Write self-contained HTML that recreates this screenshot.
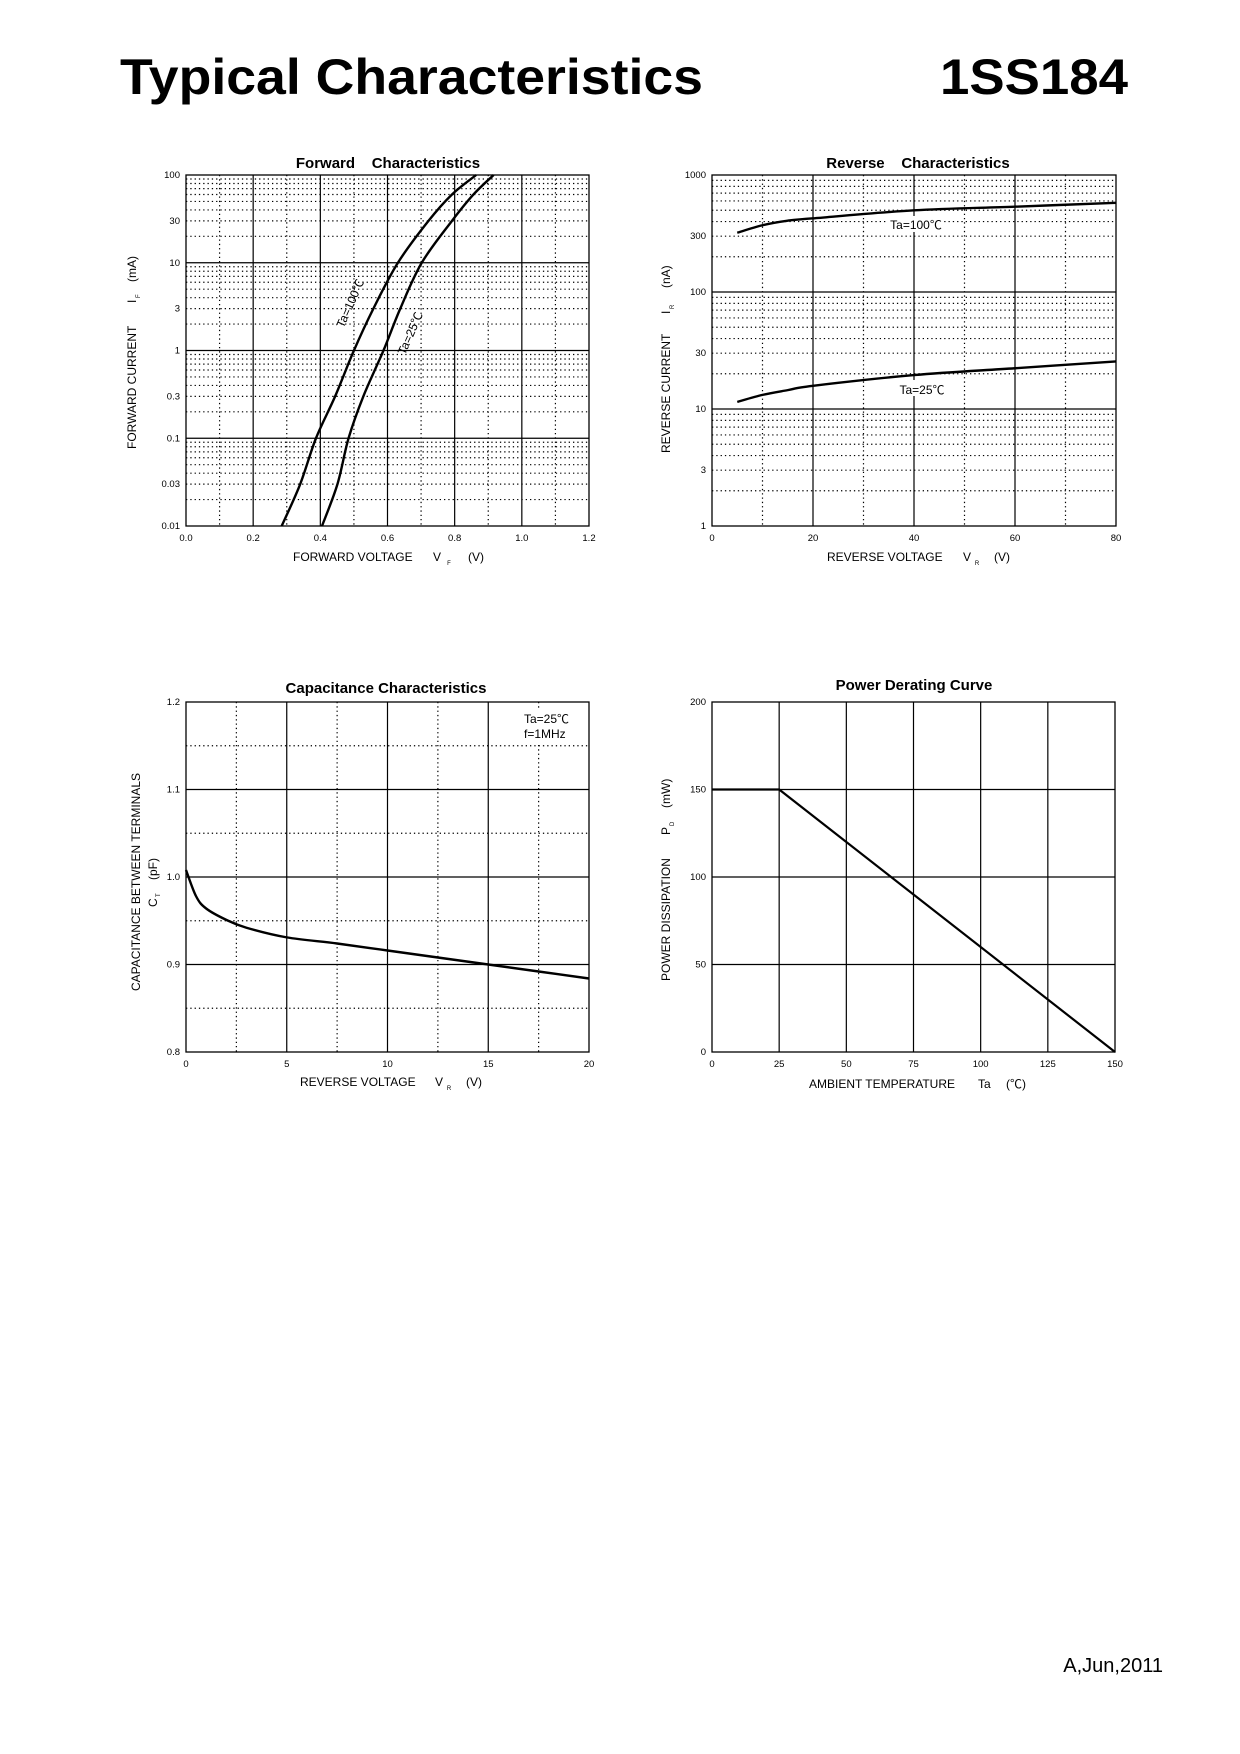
<!DOCTYPE html>
<html><head><meta charset="utf-8"><style>
html,body{margin:0;padding:0;background:#fff}
svg{display:block}
text{font-family:"Liberation Sans","Noto Sans CJK SC",sans-serif;fill:#000;white-space:pre}
</style></head><body>
<svg id="page" width="1240" height="1754" viewBox="0 0 1240 1754" xmlns="http://www.w3.org/2000/svg">
<text x="120" y="94" font-size="50" font-weight="bold" textLength="583" lengthAdjust="spacingAndGlyphs">Typical Characteristics</text>
<text x="940" y="94" font-size="50" font-weight="bold" textLength="188" lengthAdjust="spacingAndGlyphs">1SS184</text>
<text x="1163" y="1672" font-size="20" text-anchor="end">A,Jun,2011</text>
<g id="charts"></g>
</svg>
<script>
// Forward characteristics data
const fwdCurrent = [0.01, 0.03, 0.1, 0.3, 1, 3, 10, 30, 60, 100];
const fwdV100 = [0.285, 0.34, 0.387, 0.444, 0.5, 0.558, 0.631, 0.722, 0.792, 0.864];
const fwdV25 = [0.405, 0.451, 0.484, 0.528, 0.588, 0.638, 0.702, 0.792, 0.856, 0.916];
const fwdXTicks = ["0.0","0.2","0.4","0.6","0.8","1.0","1.2"];
const fwdYTicks = ["0.01","0.03","0.1","0.3","1","3","10","30","100"];
// Reverse characteristics data
const revVoltage = [5, 10, 15, 20, 40, 60, 80];
const revI100 = [321, 372, 407, 426, 499, 536, 579];
const revI25 = [11.5, 13.2, 14.5, 15.8, 19.5, 22.3, 25.5];
const revXTicks = ["0","20","40","60","80"];
const revYTicks = ["1","3","10","30","100","300","1000"];
// Capacitance data
const capVoltage = [0, 0.5, 1, 2, 3, 5, 7.5, 10, 12.5, 15, 17.5, 20];
const capValue = [1.008, 0.978, 0.964, 0.951, 0.942, 0.931, 0.924, 0.916, 0.908, 0.900, 0.892, 0.884];
const capXTicks = ["0","5","10","15","20"];
const capYTicks = ["0.8","0.9","1.0","1.1","1.2"];
// Power derating data
const pwrTemp = [0, 25, 150];
const pwrPower = [150, 150, 0];
const pwrXTicks = ["0","25","50","75","100","125","150"];
const pwrYTicks = ["0","50","100","150","200"];

const NS = "http://www.w3.org/2000/svg";
const root = document.getElementById('charts');
function el(tag, attrs, parent, txt){
  const e = document.createElementNS(NS, tag);
  for (const k in attrs) e.setAttribute(k, attrs[k]);
  if (txt !== undefined) e.textContent = txt;
  (parent || root).appendChild(e);
  return e;
}
function line(g, x1,y1,x2,y2, dotted, w){
  const l = el('line',{x1,y1,x2,y2,stroke:'#000','stroke-width':w||1.2},g);
  if (dotted){ l.setAttribute('stroke-dasharray','1.3,3'); l.setAttribute('stroke-width','1.2'); }
  
  
  return l;
}
function makeChart(name, L, T, R, B){
  const g = el('g',{});
  
  
  return {g, L, T, R, B};
}
function frame(c){
  const r = el('rect',{x:c.L,y:c.T,width:c.R-c.L,height:c.B-c.T,fill:'none',stroke:'#000','stroke-width':1.3},c.g);
  
  
}
function txt(g, x, y, s, size, anchor, name, extra){
  const t = el('text', Object.assign({x, y, 'font-size':size, 'text-anchor':anchor||'middle'}, extra||{}), g, s);
  
  
  return t;
}
function vtxt(g, x, y, s, size, name){
  const t = el('text', {x:0, y:0, 'font-size':size, 'text-anchor':'start', transform:'translate('+x+','+y+') rotate(-90)'}, g, s);
  
  
  return t;
}
function curve(c, xs, ys, fx, fy, name, w){
  const pts = xs.map((x,i)=>[fx(x), fy(ys[i])]);
  let d = 'M'+pts[0][0]+','+pts[0][1];
  for (let i=0;i<pts.length-1;i++){
    const p0=pts[Math.max(0,i-1)], p1=pts[i], p2=pts[i+1], p3=pts[Math.min(pts.length-1,i+2)];
    const c1=[p1[0]+(p2[0]-p0[0])/6, p1[1]+(p2[1]-p0[1])/6];
    const c2=[p2[0]-(p3[0]-p1[0])/6, p2[1]-(p3[1]-p1[1])/6];
    d += 'C'+c1.join(',')+' '+c2.join(',')+' '+p2.join(',');
  }
  const p = el('path',{d, fill:'none', stroke:'#000','stroke-width':w||2.4},c.g);
  
  
}

// ---------- Forward ----------
(function(){
  const c = makeChart('forward-characteristics-chart', 186, 175, 589, 526);
  const fx = v => c.L + (v-0)/1.2*(c.R-c.L);
  const fy = i => c.B - (Math.log10(i)+2)/4*(c.B-c.T);
  for (let d=-2; d<2; d++) for (let k=2;k<=9;k++) line(c.g, c.L, fy(k*Math.pow(10,d)), c.R, fy(k*Math.pow(10,d)), true);
  for (let v=0.1; v<1.2; v+=0.2) line(c.g, fx(v), c.T, fx(v), c.B, true);
  for (let d=-1; d<2; d++) line(c.g, c.L, fy(Math.pow(10,d)), c.R, fy(Math.pow(10,d)));
  for (let v=0.2; v<1.19; v+=0.2) line(c.g, fx(v), c.T, fx(v), c.B);
  frame(c);
  fwdXTicks.forEach(s=>txt(c.g, fx(parseFloat(s)), c.B+15, s, 9.5, 'middle', 'x-tick-label'));
  fwdYTicks.forEach(s=>txt(c.g, c.L-6, fy(parseFloat(s))+3, s, 9.5, 'end', 'y-tick-label'));
  curve(c, fwdV100, fwdCurrent, fx, fy, 'curve-ta-100');
  curve(c, fwdV25, fwdCurrent, fx, fy, 'curve-ta-25');
  txt(c.g, 388, 168, 'Forward    Characteristics', 15, 'middle', 'chart-title', {'font-weight':'bold'});
  txt(c.g, 293, 561, 'FORWARD VOLTAGE', 12, 'start', 'x-axis-title');
  txt(c.g, 437, 561, 'V', 12, 'middle', 'x-axis-symbol');
  txt(c.g, 449, 565, 'F', 6, 'middle', 'x-axis-subscript');
  txt(c.g, 468, 561, '(V)', 12, 'start', 'x-axis-unit');
  vtxt(c.g, 136, 449, 'FORWARD CURRENT', 12, 'y-axis-title');
  vtxt(c.g, 136, 303, 'I', 12, 'y-axis-symbol');
  vtxt(c.g, 140, 298, 'F', 6, 'y-axis-subscript');
  vtxt(c.g, 136, 282, '(mA)', 12, 'y-axis-unit');
  txt(c.g, 0, 0, 'Ta=100℃', 12, 'middle', 'label-ta-100', {transform:'translate(354,305) rotate(-66)'});
  txt(c.g, 0, 0, 'Ta=25℃', 12, 'middle', 'label-ta-25', {transform:'translate(414,335) rotate(-66)'});
})();

// ---------- Reverse ----------
(function(){
  const c = makeChart('reverse-characteristics-chart', 712, 175, 1116, 526);
  const fx = v => c.L + v/80*(c.R-c.L);
  const fy = i => c.B - Math.log10(i)/3*(c.B-c.T);
  for (let d=0; d<3; d++) for (let k=2;k<=9;k++) line(c.g, c.L, fy(k*Math.pow(10,d)), c.R, fy(k*Math.pow(10,d)), true);
  for (let v=10; v<80; v+=20) line(c.g, fx(v), c.T, fx(v), c.B, true);
  for (let d=1; d<3; d++) line(c.g, c.L, fy(Math.pow(10,d)), c.R, fy(Math.pow(10,d)));
  for (let v=20; v<80; v+=20) line(c.g, fx(v), c.T, fx(v), c.B);
  frame(c);
  revXTicks.forEach(s=>txt(c.g, fx(parseFloat(s)), c.B+15, s, 9.5, 'middle', 'x-tick-label'));
  revYTicks.forEach(s=>txt(c.g, c.L-6, fy(parseFloat(s))+3, s, 9.5, 'end', 'y-tick-label'));
  const w1 = el('rect',{x:888,y:216,width:56,height:16,fill:'#fff'},c.g);
   
  const w2 = el('rect',{x:896,y:380,width:50,height:16,fill:'#fff'},c.g);
   
  curve(c, revVoltage, revI100, fx, fy, 'curve-ta-100');
  curve(c, revVoltage, revI25, fx, fy, 'curve-ta-25');
  txt(c.g, 916, 229, 'Ta=100℃', 12, 'middle', 'label-ta-100');
  txt(c.g, 922, 394, 'Ta=25℃', 12, 'middle', 'label-ta-25');
  txt(c.g, 918, 168, 'Reverse    Characteristics', 15, 'middle', 'chart-title', {'font-weight':'bold'});
  txt(c.g, 827, 561, 'REVERSE VOLTAGE', 12, 'start', 'x-axis-title');
  txt(c.g, 967, 561, 'V', 12, 'middle', 'x-axis-symbol');
  txt(c.g, 977, 565, 'R', 6, 'middle', 'x-axis-subscript');
  txt(c.g, 994, 561, '(V)', 12, 'start', 'x-axis-unit');
  vtxt(c.g, 670, 453, 'REVERSE CURRENT', 12, 'y-axis-title');
  vtxt(c.g, 670, 314, 'I', 12, 'y-axis-symbol');
  vtxt(c.g, 674, 309, 'R', 6, 'y-axis-subscript');
  vtxt(c.g, 670, 288, '(nA)', 12, 'y-axis-unit');
})();

// ---------- Capacitance ----------
(function(){
  const c = makeChart('capacitance-characteristics-chart', 186, 702, 589, 1052);
  const fx = v => c.L + v/20*(c.R-c.L);
  const fy = v => c.B - (v-0.8)/0.4*(c.B-c.T);
  [0.85,0.95,1.05,1.15].forEach(v=>line(c.g, c.L, fy(v), c.R, fy(v), true));
  [2.5,7.5,12.5,17.5].forEach(v=>line(c.g, fx(v), c.T, fx(v), c.B, true));
  [0.9,1.0,1.1].forEach(v=>line(c.g, c.L, fy(v), c.R, fy(v)));
  [5,10,15].forEach(v=>line(c.g, fx(v), c.T, fx(v), c.B));
  const w = el('rect',{x:518,y:708,width:66,height:36,fill:'#fff'},c.g);
   
  frame(c);
  capXTicks.forEach(s=>txt(c.g, fx(parseFloat(s)), c.B+15, s, 9.5, 'middle', 'x-tick-label'));
  capYTicks.forEach(s=>txt(c.g, c.L-6, fy(parseFloat(s))+3, s, 9.5, 'end', 'y-tick-label'));
  curve(c, capVoltage, capValue, fx, fy, 'capacitance-curve');
  txt(c.g, 524, 723, 'Ta=25℃', 12, 'start', 'legend-condition-temp');
  txt(c.g, 524, 738, 'f=1MHz', 12, 'start', 'legend-condition-freq');
  txt(c.g, 386, 693, 'Capacitance Characteristics', 15, 'middle', 'chart-title', {'font-weight':'bold'});
  txt(c.g, 300, 1086, 'REVERSE VOLTAGE', 12, 'start', 'x-axis-title');
  txt(c.g, 439, 1086, 'V', 12, 'middle', 'x-axis-symbol');
  txt(c.g, 449, 1090, 'R', 6, 'middle', 'x-axis-subscript');
  txt(c.g, 466, 1086, '(V)', 12, 'start', 'x-axis-unit');
  txt(c.g, 0, 0, 'CAPACITANCE BETWEEN TERMINALS', 12, 'middle', 'y-axis-title', {transform:'translate(140,882) rotate(-90)'});
  vtxt(c.g, 157, 907, 'C', 12, 'y-axis-symbol');
  vtxt(c.g, 160, 897, 'T', 6, 'y-axis-subscript');
  vtxt(c.g, 157, 880, '(pF)', 12, 'y-axis-unit');
})();

// ---------- Power derating ----------
(function(){
  const c = makeChart('power-derating-chart', 712, 702, 1115, 1052);
  const fx = v => c.L + v/150*(c.R-c.L);
  const fy = v => c.B - v/200*(c.B-c.T);
  [50,100,150].forEach(v=>line(c.g, c.L, fy(v), c.R, fy(v)));
  [25,50,75,100,125].forEach(v=>line(c.g, fx(v), c.T, fx(v), c.B));
  frame(c);
  pwrXTicks.forEach(s=>txt(c.g, fx(parseFloat(s)), c.B+15, s, 9.5, 'middle', 'x-tick-label'));
  pwrYTicks.forEach(s=>txt(c.g, c.L-6, fy(parseFloat(s))+3, s, 9.5, 'end', 'y-tick-label'));
  let d=''; pwrTemp.forEach((t,i)=>{ d += (i?'L':'M')+fx(t)+','+fy(pwrPower[i]); });
  const p = el('path',{d, fill:'none', stroke:'#000','stroke-width':2.2},c.g);
   
  txt(c.g, 914, 690, 'Power Derating Curve', 15, 'middle', 'chart-title', {'font-weight':'bold'});
  txt(c.g, 809, 1088, 'AMBIENT TEMPERATURE', 12, 'start', 'x-axis-title');
  txt(c.g, 978, 1088, 'Ta', 12, 'start', 'x-axis-symbol');
  txt(c.g, 1006, 1088, '(℃)', 12, 'start', 'x-axis-unit');
  vtxt(c.g, 670, 981, 'POWER DISSIPATION', 12, 'y-axis-title');
  vtxt(c.g, 670, 835, 'P', 12, 'y-axis-symbol');
  vtxt(c.g, 674, 826, 'D', 6, 'y-axis-subscript');
  vtxt(c.g, 670, 808, '(mW)', 12, 'y-axis-unit');
})();
</script>
</body></html>
